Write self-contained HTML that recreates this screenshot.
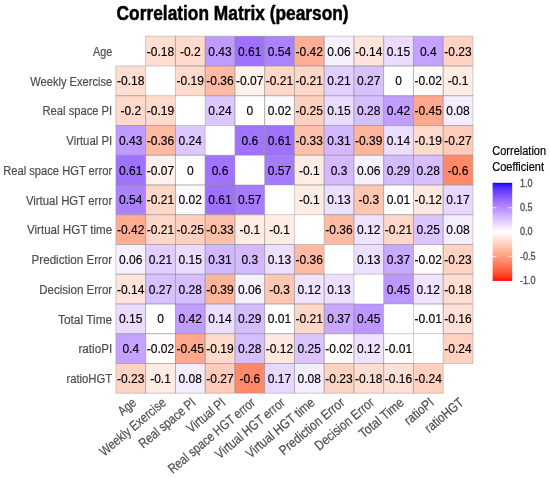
<!DOCTYPE html><html><head><meta charset="utf-8"><style>html,body{margin:0;padding:0;background:#fff;width:550px;height:478px;overflow:hidden}svg{display:block;filter:blur(0.4px)}text{font-family:"Liberation Sans",sans-serif}</style></head><body><svg width="550" height="478" viewBox="0 0 550 478"><rect width="550" height="478" fill="#fff"/><g><rect x="145.65" y="36.20" width="29.75" height="29.75" fill="#ffddd0"/><rect x="175.40" y="36.20" width="29.75" height="29.75" fill="#ffd9cb"/><rect x="205.15" y="36.20" width="29.75" height="29.75" fill="#bf9bff"/><rect x="234.90" y="36.20" width="29.75" height="29.75" fill="#9e72ff"/><rect x="264.65" y="36.20" width="29.75" height="29.75" fill="#ab82ff"/><rect x="294.40" y="36.20" width="29.75" height="29.75" fill="#ffae95"/><rect x="324.15" y="36.20" width="29.75" height="29.75" fill="#f7f1ff"/><rect x="353.90" y="36.20" width="29.75" height="29.75" fill="#ffe4db"/><rect x="383.65" y="36.20" width="29.75" height="29.75" fill="#ebdcff"/><rect x="413.40" y="36.20" width="29.75" height="29.75" fill="#c4a2ff"/><rect x="443.15" y="36.20" width="29.75" height="29.75" fill="#ffd3c4"/><rect x="115.90" y="65.95" width="29.75" height="29.75" fill="#ffddd0"/><rect x="175.40" y="65.95" width="29.75" height="29.75" fill="#ffdbce"/><rect x="205.15" y="65.95" width="29.75" height="29.75" fill="#ffbaa3"/><rect x="234.90" y="65.95" width="29.75" height="29.75" fill="#fff2ed"/><rect x="264.65" y="65.95" width="29.75" height="29.75" fill="#ffd7c9"/><rect x="294.40" y="65.95" width="29.75" height="29.75" fill="#ffd7c9"/><rect x="324.15" y="65.95" width="29.75" height="29.75" fill="#e2ceff"/><rect x="353.90" y="65.95" width="29.75" height="29.75" fill="#d9c0ff"/><rect x="383.65" y="65.95" width="29.75" height="29.75" fill="#ffffff"/><rect x="413.40" y="65.95" width="29.75" height="29.75" fill="#fffbfa"/><rect x="443.15" y="65.95" width="29.75" height="29.75" fill="#ffece5"/><rect x="115.90" y="95.70" width="29.75" height="29.75" fill="#ffd9cb"/><rect x="145.65" y="95.70" width="29.75" height="29.75" fill="#ffdbce"/><rect x="205.15" y="95.70" width="29.75" height="29.75" fill="#ddc7ff"/><rect x="234.90" y="95.70" width="29.75" height="29.75" fill="#ffffff"/><rect x="264.65" y="95.70" width="29.75" height="29.75" fill="#fcfaff"/><rect x="294.40" y="95.70" width="29.75" height="29.75" fill="#ffcfbf"/><rect x="324.15" y="95.70" width="29.75" height="29.75" fill="#ebdcff"/><rect x="353.90" y="95.70" width="29.75" height="29.75" fill="#d7beff"/><rect x="383.65" y="95.70" width="29.75" height="29.75" fill="#c19dff"/><rect x="413.40" y="95.70" width="29.75" height="29.75" fill="#ffa88d"/><rect x="443.15" y="95.70" width="29.75" height="29.75" fill="#f4ecff"/><rect x="115.90" y="125.45" width="29.75" height="29.75" fill="#bf9bff"/><rect x="145.65" y="125.45" width="29.75" height="29.75" fill="#ffbaa3"/><rect x="175.40" y="125.45" width="29.75" height="29.75" fill="#ddc7ff"/><rect x="234.90" y="125.45" width="29.75" height="29.75" fill="#a074ff"/><rect x="264.65" y="125.45" width="29.75" height="29.75" fill="#9e72ff"/><rect x="294.40" y="125.45" width="29.75" height="29.75" fill="#ffc0ab"/><rect x="324.15" y="125.45" width="29.75" height="29.75" fill="#d3b7ff"/><rect x="353.90" y="125.45" width="29.75" height="29.75" fill="#ffb49c"/><rect x="383.65" y="125.45" width="29.75" height="29.75" fill="#ecdeff"/><rect x="413.40" y="125.45" width="29.75" height="29.75" fill="#ffdbce"/><rect x="443.15" y="125.45" width="29.75" height="29.75" fill="#ffcbba"/><rect x="115.90" y="155.20" width="29.75" height="29.75" fill="#9e72ff"/><rect x="145.65" y="155.20" width="29.75" height="29.75" fill="#fff2ed"/><rect x="175.40" y="155.20" width="29.75" height="29.75" fill="#ffffff"/><rect x="205.15" y="155.20" width="29.75" height="29.75" fill="#a074ff"/><rect x="264.65" y="155.20" width="29.75" height="29.75" fill="#a67bff"/><rect x="294.40" y="155.20" width="29.75" height="29.75" fill="#ffece5"/><rect x="324.15" y="155.20" width="29.75" height="29.75" fill="#d4b9ff"/><rect x="353.90" y="155.20" width="29.75" height="29.75" fill="#f7f1ff"/><rect x="383.65" y="155.20" width="29.75" height="29.75" fill="#d6bbff"/><rect x="413.40" y="155.20" width="29.75" height="29.75" fill="#d7beff"/><rect x="443.15" y="155.20" width="29.75" height="29.75" fill="#ff8969"/><rect x="115.90" y="184.95" width="29.75" height="29.75" fill="#ab82ff"/><rect x="145.65" y="184.95" width="29.75" height="29.75" fill="#ffd7c9"/><rect x="175.40" y="184.95" width="29.75" height="29.75" fill="#fcfaff"/><rect x="205.15" y="184.95" width="29.75" height="29.75" fill="#9e72ff"/><rect x="234.90" y="184.95" width="29.75" height="29.75" fill="#a67bff"/><rect x="294.40" y="184.95" width="29.75" height="29.75" fill="#ffece5"/><rect x="324.15" y="184.95" width="29.75" height="29.75" fill="#ede0ff"/><rect x="353.90" y="184.95" width="29.75" height="29.75" fill="#ffc6b2"/><rect x="383.65" y="184.95" width="29.75" height="29.75" fill="#fefdff"/><rect x="413.40" y="184.95" width="29.75" height="29.75" fill="#ffe8e0"/><rect x="443.15" y="184.95" width="29.75" height="29.75" fill="#e8d7ff"/><rect x="115.90" y="214.70" width="29.75" height="29.75" fill="#ffae95"/><rect x="145.65" y="214.70" width="29.75" height="29.75" fill="#ffd7c9"/><rect x="175.40" y="214.70" width="29.75" height="29.75" fill="#ffcfbf"/><rect x="205.15" y="214.70" width="29.75" height="29.75" fill="#ffc0ab"/><rect x="234.90" y="214.70" width="29.75" height="29.75" fill="#ffece5"/><rect x="264.65" y="214.70" width="29.75" height="29.75" fill="#ffece5"/><rect x="324.15" y="214.70" width="29.75" height="29.75" fill="#ffbaa3"/><rect x="353.90" y="214.70" width="29.75" height="29.75" fill="#efe3ff"/><rect x="383.65" y="214.70" width="29.75" height="29.75" fill="#ffd7c9"/><rect x="413.40" y="214.70" width="29.75" height="29.75" fill="#dcc4ff"/><rect x="443.15" y="214.70" width="29.75" height="29.75" fill="#f4ecff"/><rect x="115.90" y="244.45" width="29.75" height="29.75" fill="#f7f1ff"/><rect x="145.65" y="244.45" width="29.75" height="29.75" fill="#e2ceff"/><rect x="175.40" y="244.45" width="29.75" height="29.75" fill="#ebdcff"/><rect x="205.15" y="244.45" width="29.75" height="29.75" fill="#d3b7ff"/><rect x="234.90" y="244.45" width="29.75" height="29.75" fill="#d4b9ff"/><rect x="264.65" y="244.45" width="29.75" height="29.75" fill="#ede0ff"/><rect x="294.40" y="244.45" width="29.75" height="29.75" fill="#ffbaa3"/><rect x="353.90" y="244.45" width="29.75" height="29.75" fill="#ede0ff"/><rect x="383.65" y="244.45" width="29.75" height="29.75" fill="#c9a9ff"/><rect x="413.40" y="244.45" width="29.75" height="29.75" fill="#fffbfa"/><rect x="443.15" y="244.45" width="29.75" height="29.75" fill="#ffd3c4"/><rect x="115.90" y="274.20" width="29.75" height="29.75" fill="#ffe4db"/><rect x="145.65" y="274.20" width="29.75" height="29.75" fill="#d9c0ff"/><rect x="175.40" y="274.20" width="29.75" height="29.75" fill="#d7beff"/><rect x="205.15" y="274.20" width="29.75" height="29.75" fill="#ffb49c"/><rect x="234.90" y="274.20" width="29.75" height="29.75" fill="#f7f1ff"/><rect x="264.65" y="274.20" width="29.75" height="29.75" fill="#ffc6b2"/><rect x="294.40" y="274.20" width="29.75" height="29.75" fill="#efe3ff"/><rect x="324.15" y="274.20" width="29.75" height="29.75" fill="#ede0ff"/><rect x="383.65" y="274.20" width="29.75" height="29.75" fill="#bc97ff"/><rect x="413.40" y="274.20" width="29.75" height="29.75" fill="#efe3ff"/><rect x="443.15" y="274.20" width="29.75" height="29.75" fill="#ffddd0"/><rect x="115.90" y="303.95" width="29.75" height="29.75" fill="#ebdcff"/><rect x="145.65" y="303.95" width="29.75" height="29.75" fill="#ffffff"/><rect x="175.40" y="303.95" width="29.75" height="29.75" fill="#c19dff"/><rect x="205.15" y="303.95" width="29.75" height="29.75" fill="#ecdeff"/><rect x="234.90" y="303.95" width="29.75" height="29.75" fill="#d6bbff"/><rect x="264.65" y="303.95" width="29.75" height="29.75" fill="#fefdff"/><rect x="294.40" y="303.95" width="29.75" height="29.75" fill="#ffd7c9"/><rect x="324.15" y="303.95" width="29.75" height="29.75" fill="#c9a9ff"/><rect x="353.90" y="303.95" width="29.75" height="29.75" fill="#bc97ff"/><rect x="413.40" y="303.95" width="29.75" height="29.75" fill="#fffdfc"/><rect x="443.15" y="303.95" width="29.75" height="29.75" fill="#ffe0d6"/><rect x="115.90" y="333.70" width="29.75" height="29.75" fill="#c4a2ff"/><rect x="145.65" y="333.70" width="29.75" height="29.75" fill="#fffbfa"/><rect x="175.40" y="333.70" width="29.75" height="29.75" fill="#ffa88d"/><rect x="205.15" y="333.70" width="29.75" height="29.75" fill="#ffdbce"/><rect x="234.90" y="333.70" width="29.75" height="29.75" fill="#d7beff"/><rect x="264.65" y="333.70" width="29.75" height="29.75" fill="#ffe8e0"/><rect x="294.40" y="333.70" width="29.75" height="29.75" fill="#dcc4ff"/><rect x="324.15" y="333.70" width="29.75" height="29.75" fill="#fffbfa"/><rect x="353.90" y="333.70" width="29.75" height="29.75" fill="#efe3ff"/><rect x="383.65" y="333.70" width="29.75" height="29.75" fill="#fffdfc"/><rect x="443.15" y="333.70" width="29.75" height="29.75" fill="#ffd1c1"/><rect x="115.90" y="363.45" width="29.75" height="29.75" fill="#ffd3c4"/><rect x="145.65" y="363.45" width="29.75" height="29.75" fill="#ffece5"/><rect x="175.40" y="363.45" width="29.75" height="29.75" fill="#f4ecff"/><rect x="205.15" y="363.45" width="29.75" height="29.75" fill="#ffcbba"/><rect x="234.90" y="363.45" width="29.75" height="29.75" fill="#ff8969"/><rect x="264.65" y="363.45" width="29.75" height="29.75" fill="#e8d7ff"/><rect x="294.40" y="363.45" width="29.75" height="29.75" fill="#f4ecff"/><rect x="324.15" y="363.45" width="29.75" height="29.75" fill="#ffd3c4"/><rect x="353.90" y="363.45" width="29.75" height="29.75" fill="#ffddd0"/><rect x="383.65" y="363.45" width="29.75" height="29.75" fill="#ffe0d6"/><rect x="413.40" y="363.45" width="29.75" height="29.75" fill="#ffd1c1"/></g><g fill="none" stroke="#8c8c8c" stroke-width="0.9" stroke-opacity="0.45"><rect x="145.65" y="36.20" width="29.75" height="29.75"/><rect x="175.40" y="36.20" width="29.75" height="29.75"/><rect x="205.15" y="36.20" width="29.75" height="29.75"/><rect x="234.90" y="36.20" width="29.75" height="29.75"/><rect x="264.65" y="36.20" width="29.75" height="29.75"/><rect x="294.40" y="36.20" width="29.75" height="29.75"/><rect x="324.15" y="36.20" width="29.75" height="29.75"/><rect x="353.90" y="36.20" width="29.75" height="29.75"/><rect x="383.65" y="36.20" width="29.75" height="29.75"/><rect x="413.40" y="36.20" width="29.75" height="29.75"/><rect x="443.15" y="36.20" width="29.75" height="29.75"/><rect x="115.90" y="65.95" width="29.75" height="29.75"/><rect x="175.40" y="65.95" width="29.75" height="29.75"/><rect x="205.15" y="65.95" width="29.75" height="29.75"/><rect x="234.90" y="65.95" width="29.75" height="29.75"/><rect x="264.65" y="65.95" width="29.75" height="29.75"/><rect x="294.40" y="65.95" width="29.75" height="29.75"/><rect x="324.15" y="65.95" width="29.75" height="29.75"/><rect x="353.90" y="65.95" width="29.75" height="29.75"/><rect x="383.65" y="65.95" width="29.75" height="29.75"/><rect x="413.40" y="65.95" width="29.75" height="29.75"/><rect x="443.15" y="65.95" width="29.75" height="29.75"/><rect x="115.90" y="95.70" width="29.75" height="29.75"/><rect x="145.65" y="95.70" width="29.75" height="29.75"/><rect x="205.15" y="95.70" width="29.75" height="29.75"/><rect x="234.90" y="95.70" width="29.75" height="29.75"/><rect x="264.65" y="95.70" width="29.75" height="29.75"/><rect x="294.40" y="95.70" width="29.75" height="29.75"/><rect x="324.15" y="95.70" width="29.75" height="29.75"/><rect x="353.90" y="95.70" width="29.75" height="29.75"/><rect x="383.65" y="95.70" width="29.75" height="29.75"/><rect x="413.40" y="95.70" width="29.75" height="29.75"/><rect x="443.15" y="95.70" width="29.75" height="29.75"/><rect x="115.90" y="125.45" width="29.75" height="29.75"/><rect x="145.65" y="125.45" width="29.75" height="29.75"/><rect x="175.40" y="125.45" width="29.75" height="29.75"/><rect x="234.90" y="125.45" width="29.75" height="29.75"/><rect x="264.65" y="125.45" width="29.75" height="29.75"/><rect x="294.40" y="125.45" width="29.75" height="29.75"/><rect x="324.15" y="125.45" width="29.75" height="29.75"/><rect x="353.90" y="125.45" width="29.75" height="29.75"/><rect x="383.65" y="125.45" width="29.75" height="29.75"/><rect x="413.40" y="125.45" width="29.75" height="29.75"/><rect x="443.15" y="125.45" width="29.75" height="29.75"/><rect x="115.90" y="155.20" width="29.75" height="29.75"/><rect x="145.65" y="155.20" width="29.75" height="29.75"/><rect x="175.40" y="155.20" width="29.75" height="29.75"/><rect x="205.15" y="155.20" width="29.75" height="29.75"/><rect x="264.65" y="155.20" width="29.75" height="29.75"/><rect x="294.40" y="155.20" width="29.75" height="29.75"/><rect x="324.15" y="155.20" width="29.75" height="29.75"/><rect x="353.90" y="155.20" width="29.75" height="29.75"/><rect x="383.65" y="155.20" width="29.75" height="29.75"/><rect x="413.40" y="155.20" width="29.75" height="29.75"/><rect x="443.15" y="155.20" width="29.75" height="29.75"/><rect x="115.90" y="184.95" width="29.75" height="29.75"/><rect x="145.65" y="184.95" width="29.75" height="29.75"/><rect x="175.40" y="184.95" width="29.75" height="29.75"/><rect x="205.15" y="184.95" width="29.75" height="29.75"/><rect x="234.90" y="184.95" width="29.75" height="29.75"/><rect x="294.40" y="184.95" width="29.75" height="29.75"/><rect x="324.15" y="184.95" width="29.75" height="29.75"/><rect x="353.90" y="184.95" width="29.75" height="29.75"/><rect x="383.65" y="184.95" width="29.75" height="29.75"/><rect x="413.40" y="184.95" width="29.75" height="29.75"/><rect x="443.15" y="184.95" width="29.75" height="29.75"/><rect x="115.90" y="214.70" width="29.75" height="29.75"/><rect x="145.65" y="214.70" width="29.75" height="29.75"/><rect x="175.40" y="214.70" width="29.75" height="29.75"/><rect x="205.15" y="214.70" width="29.75" height="29.75"/><rect x="234.90" y="214.70" width="29.75" height="29.75"/><rect x="264.65" y="214.70" width="29.75" height="29.75"/><rect x="324.15" y="214.70" width="29.75" height="29.75"/><rect x="353.90" y="214.70" width="29.75" height="29.75"/><rect x="383.65" y="214.70" width="29.75" height="29.75"/><rect x="413.40" y="214.70" width="29.75" height="29.75"/><rect x="443.15" y="214.70" width="29.75" height="29.75"/><rect x="115.90" y="244.45" width="29.75" height="29.75"/><rect x="145.65" y="244.45" width="29.75" height="29.75"/><rect x="175.40" y="244.45" width="29.75" height="29.75"/><rect x="205.15" y="244.45" width="29.75" height="29.75"/><rect x="234.90" y="244.45" width="29.75" height="29.75"/><rect x="264.65" y="244.45" width="29.75" height="29.75"/><rect x="294.40" y="244.45" width="29.75" height="29.75"/><rect x="353.90" y="244.45" width="29.75" height="29.75"/><rect x="383.65" y="244.45" width="29.75" height="29.75"/><rect x="413.40" y="244.45" width="29.75" height="29.75"/><rect x="443.15" y="244.45" width="29.75" height="29.75"/><rect x="115.90" y="274.20" width="29.75" height="29.75"/><rect x="145.65" y="274.20" width="29.75" height="29.75"/><rect x="175.40" y="274.20" width="29.75" height="29.75"/><rect x="205.15" y="274.20" width="29.75" height="29.75"/><rect x="234.90" y="274.20" width="29.75" height="29.75"/><rect x="264.65" y="274.20" width="29.75" height="29.75"/><rect x="294.40" y="274.20" width="29.75" height="29.75"/><rect x="324.15" y="274.20" width="29.75" height="29.75"/><rect x="383.65" y="274.20" width="29.75" height="29.75"/><rect x="413.40" y="274.20" width="29.75" height="29.75"/><rect x="443.15" y="274.20" width="29.75" height="29.75"/><rect x="115.90" y="303.95" width="29.75" height="29.75"/><rect x="145.65" y="303.95" width="29.75" height="29.75"/><rect x="175.40" y="303.95" width="29.75" height="29.75"/><rect x="205.15" y="303.95" width="29.75" height="29.75"/><rect x="234.90" y="303.95" width="29.75" height="29.75"/><rect x="264.65" y="303.95" width="29.75" height="29.75"/><rect x="294.40" y="303.95" width="29.75" height="29.75"/><rect x="324.15" y="303.95" width="29.75" height="29.75"/><rect x="353.90" y="303.95" width="29.75" height="29.75"/><rect x="413.40" y="303.95" width="29.75" height="29.75"/><rect x="443.15" y="303.95" width="29.75" height="29.75"/><rect x="115.90" y="333.70" width="29.75" height="29.75"/><rect x="145.65" y="333.70" width="29.75" height="29.75"/><rect x="175.40" y="333.70" width="29.75" height="29.75"/><rect x="205.15" y="333.70" width="29.75" height="29.75"/><rect x="234.90" y="333.70" width="29.75" height="29.75"/><rect x="264.65" y="333.70" width="29.75" height="29.75"/><rect x="294.40" y="333.70" width="29.75" height="29.75"/><rect x="324.15" y="333.70" width="29.75" height="29.75"/><rect x="353.90" y="333.70" width="29.75" height="29.75"/><rect x="383.65" y="333.70" width="29.75" height="29.75"/><rect x="443.15" y="333.70" width="29.75" height="29.75"/><rect x="115.90" y="363.45" width="29.75" height="29.75"/><rect x="145.65" y="363.45" width="29.75" height="29.75"/><rect x="175.40" y="363.45" width="29.75" height="29.75"/><rect x="205.15" y="363.45" width="29.75" height="29.75"/><rect x="234.90" y="363.45" width="29.75" height="29.75"/><rect x="264.65" y="363.45" width="29.75" height="29.75"/><rect x="294.40" y="363.45" width="29.75" height="29.75"/><rect x="324.15" y="363.45" width="29.75" height="29.75"/><rect x="353.90" y="363.45" width="29.75" height="29.75"/><rect x="383.65" y="363.45" width="29.75" height="29.75"/><rect x="413.40" y="363.45" width="29.75" height="29.75"/></g><g font-size="12" fill="#000" stroke="#000" stroke-width="0.15" text-anchor="middle"><text x="160.53" y="55.68">-0.18</text><text x="190.28" y="55.68">-0.2</text><text x="220.03" y="55.68">0.43</text><text x="249.78" y="55.68">0.61</text><text x="279.52" y="55.68">0.54</text><text x="309.27" y="55.68">-0.42</text><text x="339.02" y="55.68">0.06</text><text x="368.77" y="55.68">-0.14</text><text x="398.52" y="55.68">0.15</text><text x="428.27" y="55.68">0.4</text><text x="458.02" y="55.68">-0.23</text><text x="130.78" y="85.42">-0.18</text><text x="190.28" y="85.42">-0.19</text><text x="220.03" y="85.42">-0.36</text><text x="249.78" y="85.42">-0.07</text><text x="279.52" y="85.42">-0.21</text><text x="309.27" y="85.42">-0.21</text><text x="339.02" y="85.42">0.21</text><text x="368.77" y="85.42">0.27</text><text x="398.52" y="85.42">0</text><text x="428.27" y="85.42">-0.02</text><text x="458.02" y="85.42">-0.1</text><text x="130.78" y="115.17">-0.2</text><text x="160.53" y="115.17">-0.19</text><text x="220.03" y="115.17">0.24</text><text x="249.78" y="115.17">0</text><text x="279.52" y="115.17">0.02</text><text x="309.27" y="115.17">-0.25</text><text x="339.02" y="115.17">0.15</text><text x="368.77" y="115.17">0.28</text><text x="398.52" y="115.17">0.42</text><text x="428.27" y="115.17">-0.45</text><text x="458.02" y="115.17">0.08</text><text x="130.78" y="144.92">0.43</text><text x="160.53" y="144.92">-0.36</text><text x="190.28" y="144.92">0.24</text><text x="249.78" y="144.92">0.6</text><text x="279.52" y="144.92">0.61</text><text x="309.27" y="144.92">-0.33</text><text x="339.02" y="144.92">0.31</text><text x="368.77" y="144.92">-0.39</text><text x="398.52" y="144.92">0.14</text><text x="428.27" y="144.92">-0.19</text><text x="458.02" y="144.92">-0.27</text><text x="130.78" y="174.67">0.61</text><text x="160.53" y="174.67">-0.07</text><text x="190.28" y="174.67">0</text><text x="220.03" y="174.67">0.6</text><text x="279.52" y="174.67">0.57</text><text x="309.27" y="174.67">-0.1</text><text x="339.02" y="174.67">0.3</text><text x="368.77" y="174.67">0.06</text><text x="398.52" y="174.67">0.29</text><text x="428.27" y="174.67">0.28</text><text x="458.02" y="174.67">-0.6</text><text x="130.78" y="204.42">0.54</text><text x="160.53" y="204.42">-0.21</text><text x="190.28" y="204.42">0.02</text><text x="220.03" y="204.42">0.61</text><text x="249.78" y="204.42">0.57</text><text x="309.27" y="204.42">-0.1</text><text x="339.02" y="204.42">0.13</text><text x="368.77" y="204.42">-0.3</text><text x="398.52" y="204.42">0.01</text><text x="428.27" y="204.42">-0.12</text><text x="458.02" y="204.42">0.17</text><text x="130.78" y="234.17">-0.42</text><text x="160.53" y="234.17">-0.21</text><text x="190.28" y="234.17">-0.25</text><text x="220.03" y="234.17">-0.33</text><text x="249.78" y="234.17">-0.1</text><text x="279.52" y="234.17">-0.1</text><text x="339.02" y="234.17">-0.36</text><text x="368.77" y="234.17">0.12</text><text x="398.52" y="234.17">-0.21</text><text x="428.27" y="234.17">0.25</text><text x="458.02" y="234.17">0.08</text><text x="130.78" y="263.93">0.06</text><text x="160.53" y="263.93">0.21</text><text x="190.28" y="263.93">0.15</text><text x="220.03" y="263.93">0.31</text><text x="249.78" y="263.93">0.3</text><text x="279.52" y="263.93">0.13</text><text x="309.27" y="263.93">-0.36</text><text x="368.77" y="263.93">0.13</text><text x="398.52" y="263.93">0.37</text><text x="428.27" y="263.93">-0.02</text><text x="458.02" y="263.93">-0.23</text><text x="130.78" y="293.68">-0.14</text><text x="160.53" y="293.68">0.27</text><text x="190.28" y="293.68">0.28</text><text x="220.03" y="293.68">-0.39</text><text x="249.78" y="293.68">0.06</text><text x="279.52" y="293.68">-0.3</text><text x="309.27" y="293.68">0.12</text><text x="339.02" y="293.68">0.13</text><text x="398.52" y="293.68">0.45</text><text x="428.27" y="293.68">0.12</text><text x="458.02" y="293.68">-0.18</text><text x="130.78" y="323.43">0.15</text><text x="160.53" y="323.43">0</text><text x="190.28" y="323.43">0.42</text><text x="220.03" y="323.43">0.14</text><text x="249.78" y="323.43">0.29</text><text x="279.52" y="323.43">0.01</text><text x="309.27" y="323.43">-0.21</text><text x="339.02" y="323.43">0.37</text><text x="368.77" y="323.43">0.45</text><text x="428.27" y="323.43">-0.01</text><text x="458.02" y="323.43">-0.16</text><text x="130.78" y="353.18">0.4</text><text x="160.53" y="353.18">-0.02</text><text x="190.28" y="353.18">-0.45</text><text x="220.03" y="353.18">-0.19</text><text x="249.78" y="353.18">0.28</text><text x="279.52" y="353.18">-0.12</text><text x="309.27" y="353.18">0.25</text><text x="339.02" y="353.18">-0.02</text><text x="368.77" y="353.18">0.12</text><text x="398.52" y="353.18">-0.01</text><text x="458.02" y="353.18">-0.24</text><text x="130.78" y="382.93">-0.23</text><text x="160.53" y="382.93">-0.1</text><text x="190.28" y="382.93">0.08</text><text x="220.03" y="382.93">-0.27</text><text x="249.78" y="382.93">-0.6</text><text x="279.52" y="382.93">0.17</text><text x="309.27" y="382.93">0.08</text><text x="339.02" y="382.93">-0.23</text><text x="368.77" y="382.93">-0.18</text><text x="398.52" y="382.93">-0.16</text><text x="428.27" y="382.93">-0.24</text></g><g font-size="13.5" fill="#4d4d4d" stroke="#4d4d4d" stroke-width="0.2" text-anchor="end"><text transform="translate(112.20 55.91) scale(0.8006 1)">Age</text><text transform="translate(112.20 85.66) scale(0.8233 1)">Weekly Exercise</text><text transform="translate(112.20 115.41) scale(0.8306 1)">Real space PI</text><text transform="translate(112.20 145.16) scale(0.8435 1)">Virtual PI</text><text transform="translate(112.20 174.91) scale(0.8287 1)">Real space HGT error</text><text transform="translate(112.20 204.66) scale(0.8446 1)">Virtual HGT error</text><text transform="translate(112.20 234.41) scale(0.8584 1)">Virtual HGT time</text><text transform="translate(112.20 264.16) scale(0.86 1)">Prediction Error</text><text transform="translate(112.20 293.91) scale(0.8538 1)">Decision Error</text><text transform="translate(112.20 323.66) scale(0.8815 1)">Total Time</text><text transform="translate(112.20 353.41) scale(0.8662 1)">ratioPI</text><text transform="translate(112.20 383.16) scale(0.8374 1)">ratioHGT</text></g><g font-size="13.5" fill="#4d4d4d" stroke="#4d4d4d" stroke-width="0.2" text-anchor="end"><text transform="translate(137.19 404.01) rotate(-40) scale(0.8006 1)">Age</text><text transform="translate(166.94 404.01) rotate(-40) scale(0.8233 1)">Weekly Exercise</text><text transform="translate(196.69 404.01) rotate(-40) scale(0.8306 1)">Real space PI</text><text transform="translate(226.44 404.01) rotate(-40) scale(0.8435 1)">Virtual PI</text><text transform="translate(256.19 404.01) rotate(-40) scale(0.8287 1)">Real space HGT error</text><text transform="translate(285.94 404.01) rotate(-40) scale(0.8446 1)">Virtual HGT error</text><text transform="translate(315.69 404.01) rotate(-40) scale(0.8584 1)">Virtual HGT time</text><text transform="translate(345.44 404.01) rotate(-40) scale(0.86 1)">Prediction Error</text><text transform="translate(375.19 404.01) rotate(-40) scale(0.8538 1)">Decision Error</text><text transform="translate(404.94 404.01) rotate(-40) scale(0.8815 1)">Total Time</text><text transform="translate(434.69 404.01) rotate(-40) scale(0.8662 1)">ratioPI</text><text transform="translate(464.44 404.01) rotate(-40) scale(0.8374 1)">ratioHGT</text></g><text transform="translate(116.6 19.8) scale(0.889 1)" font-size="19.5" font-weight="bold" fill="#000" stroke="#000" stroke-width="0.5">Correlation Matrix (pearson)</text><defs><linearGradient id="lg" x1="0" y1="0" x2="0" y2="1"><stop offset="0.0000" stop-color="#0000ff"/><stop offset="0.0250" stop-color="#381bff"/><stop offset="0.0500" stop-color="#502bff"/><stop offset="0.0750" stop-color="#6239ff"/><stop offset="0.1000" stop-color="#7145ff"/><stop offset="0.1250" stop-color="#7e52ff"/><stop offset="0.1500" stop-color="#8a5dff"/><stop offset="0.1750" stop-color="#9569ff"/><stop offset="0.2000" stop-color="#a074ff"/><stop offset="0.2250" stop-color="#aa80ff"/><stop offset="0.2500" stop-color="#b38bff"/><stop offset="0.2750" stop-color="#bc97ff"/><stop offset="0.3000" stop-color="#c4a2ff"/><stop offset="0.3250" stop-color="#ccadff"/><stop offset="0.3500" stop-color="#d4b9ff"/><stop offset="0.3750" stop-color="#dcc4ff"/><stop offset="0.4000" stop-color="#e3d0ff"/><stop offset="0.4250" stop-color="#ebdcff"/><stop offset="0.4500" stop-color="#f2e7ff"/><stop offset="0.4750" stop-color="#f8f3ff"/><stop offset="0.5000" stop-color="#ffffff"/><stop offset="0.5250" stop-color="#fff5f2"/><stop offset="0.5500" stop-color="#ffece5"/><stop offset="0.5750" stop-color="#ffe2d8"/><stop offset="0.6000" stop-color="#ffd9cb"/><stop offset="0.6250" stop-color="#ffcfbf"/><stop offset="0.6500" stop-color="#ffc6b2"/><stop offset="0.6750" stop-color="#ffbca6"/><stop offset="0.7000" stop-color="#ffb299"/><stop offset="0.7250" stop-color="#ffa88d"/><stop offset="0.7500" stop-color="#ff9e81"/><stop offset="0.7750" stop-color="#ff9475"/><stop offset="0.8000" stop-color="#ff8969"/><stop offset="0.8250" stop-color="#ff7e5e"/><stop offset="0.8500" stop-color="#ff7352"/><stop offset="0.8750" stop-color="#ff6846"/><stop offset="0.9000" stop-color="#ff5b3a"/><stop offset="0.9250" stop-color="#ff4d2e"/><stop offset="0.9500" stop-color="#ff3e22"/><stop offset="0.9750" stop-color="#ff2913"/><stop offset="1.0000" stop-color="#ff0000"/></linearGradient></defs><rect x="492.6" y="182.8" width="19.6" height="98.1" fill="url(#lg)"/><g stroke="#fff" stroke-width="0.8"><line x1="492.6" y1="207.75" x2="496.52" y2="207.75"/><line x1="508.28" y1="207.75" x2="512.20" y2="207.75"/><line x1="492.6" y1="232.20" x2="496.52" y2="232.20"/><line x1="508.28" y1="232.20" x2="512.20" y2="232.20"/><line x1="492.6" y1="256.65" x2="496.52" y2="256.65"/><line x1="508.28" y1="256.65" x2="512.20" y2="256.65"/></g><g font-size="10.4" fill="#4d4d4d" stroke="#4d4d4d" stroke-width="0.3"><text transform="translate(520 186.52) scale(0.87 1)">1.0</text><text transform="translate(520 210.97) scale(0.87 1)">0.5</text><text transform="translate(520 235.42) scale(0.87 1)">0.0</text><text transform="translate(520 259.87) scale(0.87 1)">-0.5</text><text transform="translate(520 284.32) scale(0.87 1)">-1.0</text></g><g font-size="12.5" fill="#000" stroke="#000" stroke-width="0.2"><text transform="translate(492.3 154.9) scale(0.88 1)">Correlation</text><text transform="translate(492.3 171.4) scale(0.88 1)">Coefficient</text></g></svg></body></html>
